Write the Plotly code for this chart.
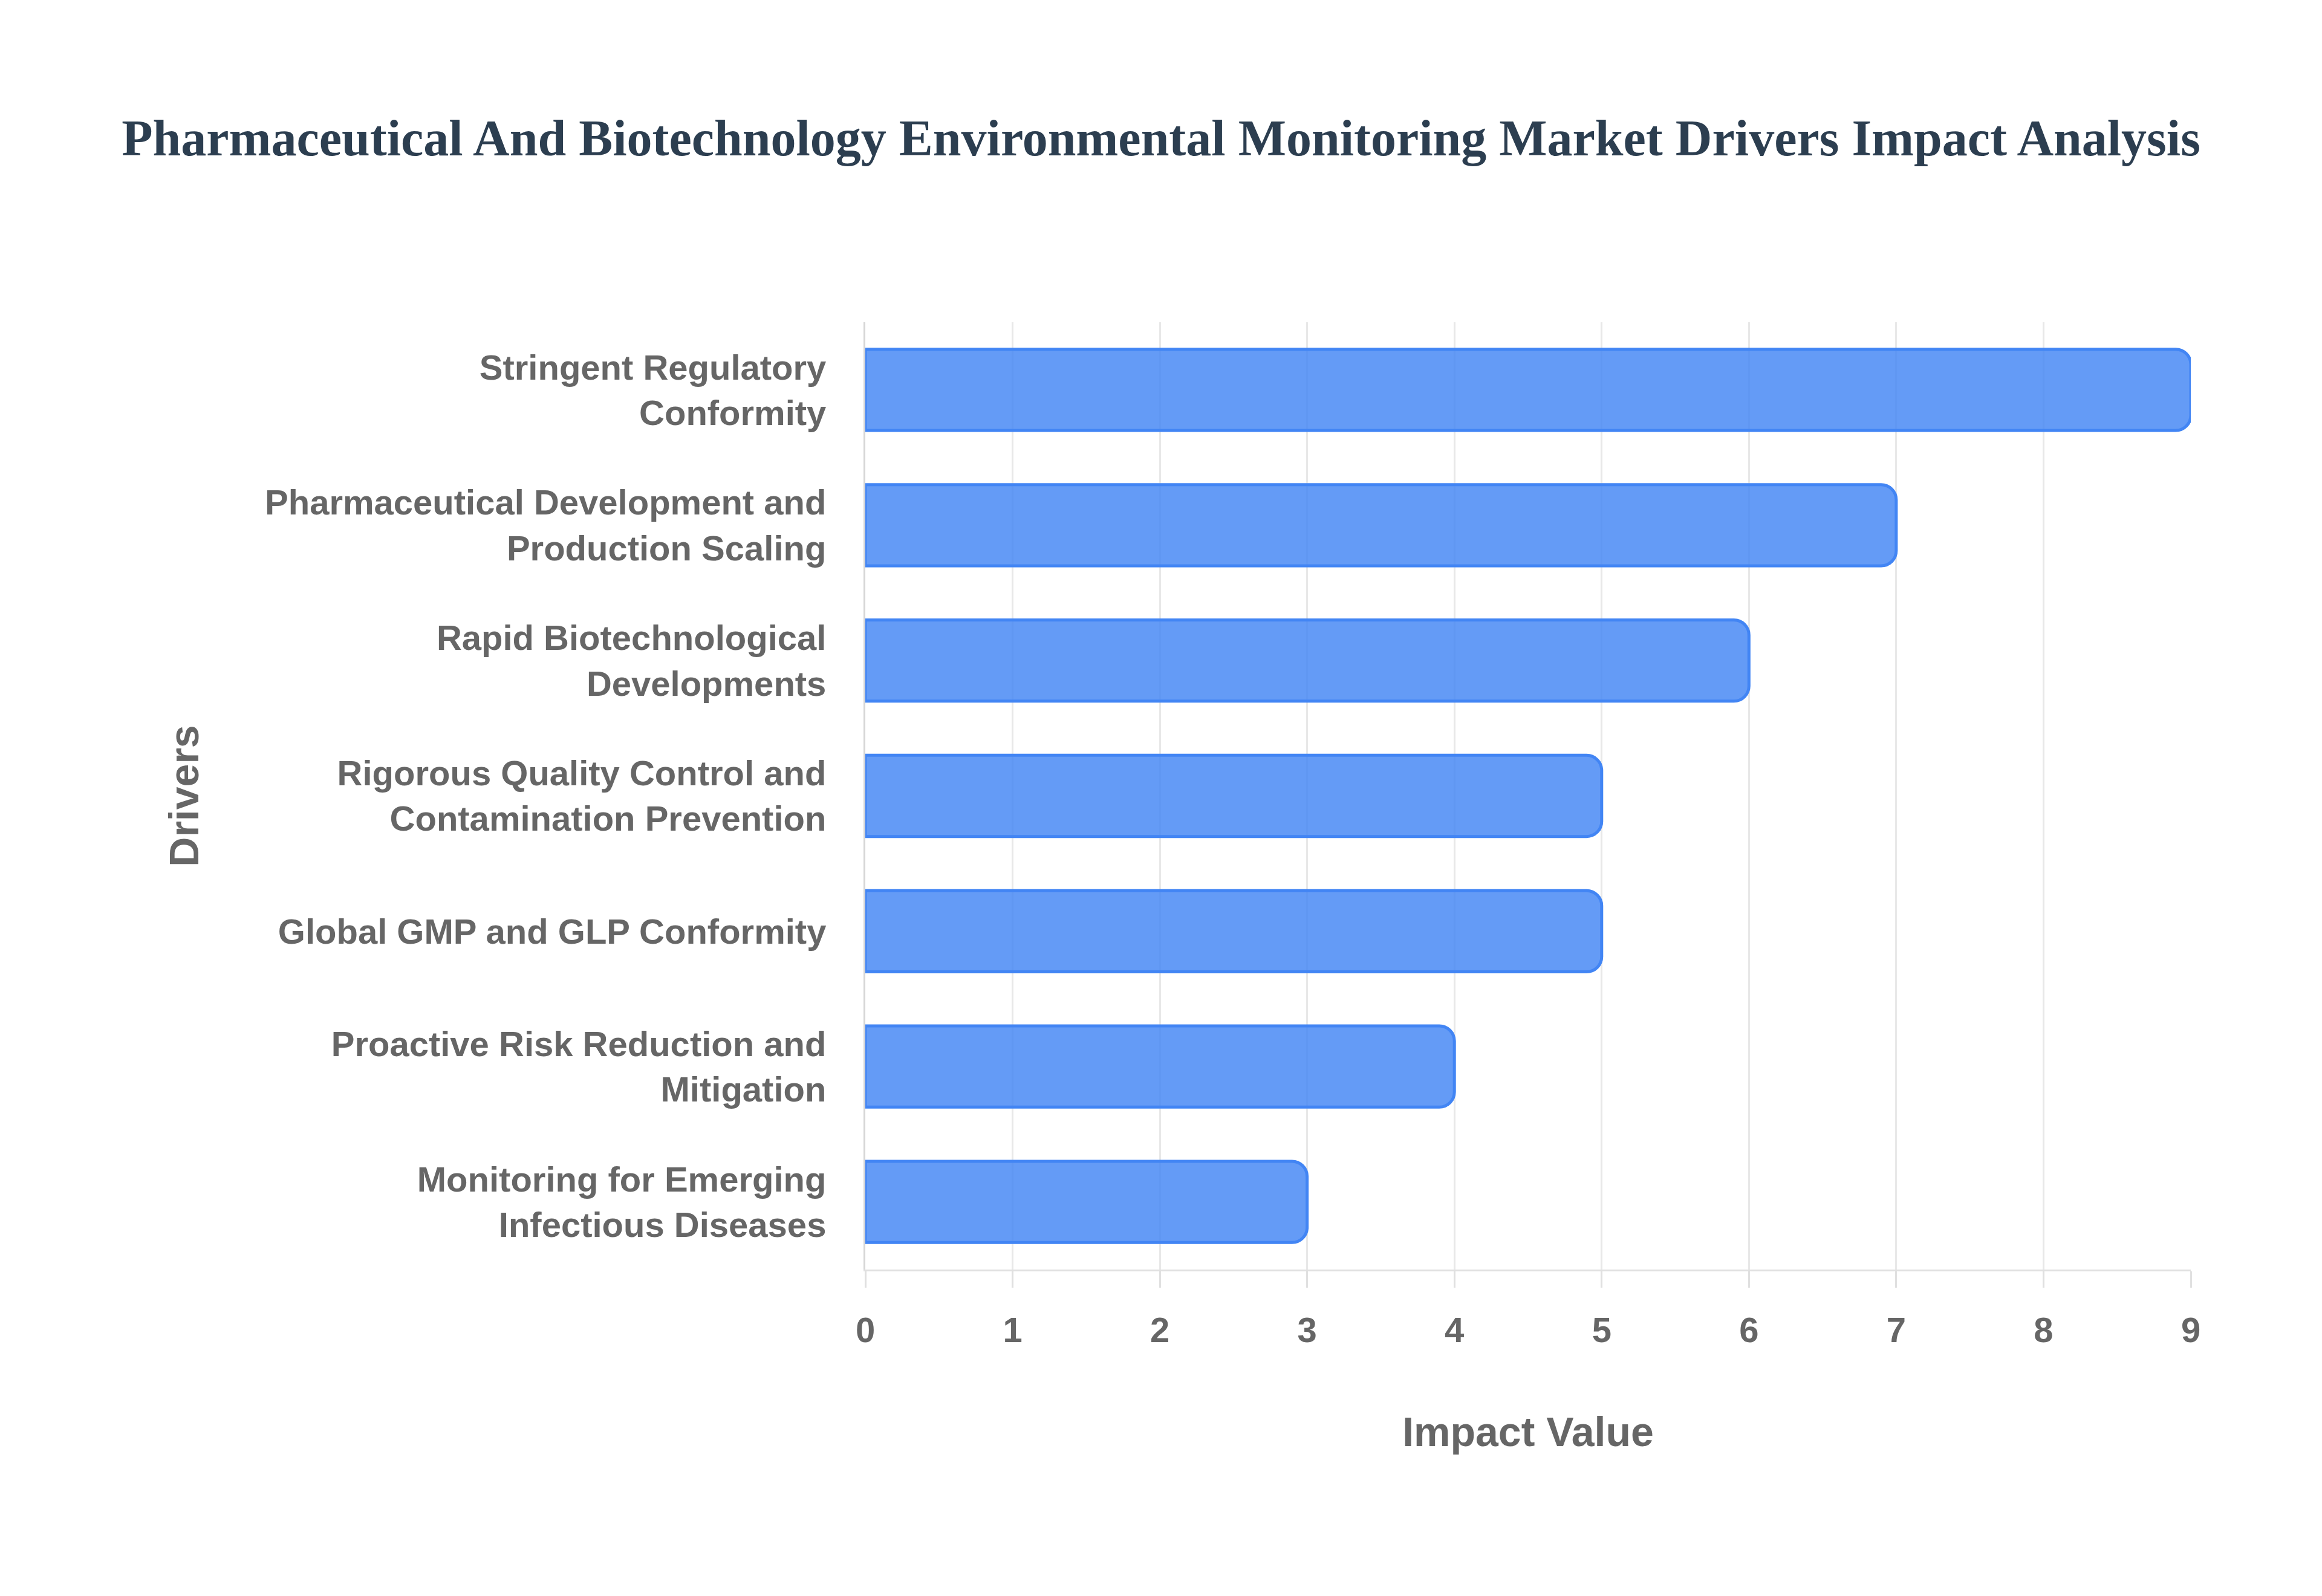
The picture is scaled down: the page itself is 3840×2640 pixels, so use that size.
import plotly.graph_objects as go

# data (top to bottom)
drivers = [
    "Stringent Regulatory<br>Conformity",
    "Pharmaceutical Development and<br>Production Scaling",
    "Rapid Biotechnological<br>Developments",
    "Rigorous Quality Control and<br>Contamination Prevention",
    "Global GMP and GLP Conformity",
    "Proactive Risk Reduction and<br>Mitigation",
    "Monitoring for Emerging<br>Infectious Diseases",
]
impact_values = [9, 7, 6, 5, 5, 4, 3]
x_ticks = [0, 1, 2, 3, 4, 5, 6, 7, 8, 9]

title_text = "Pharmaceutical And Biotechnology Environmental Monitoring Market Drivers Impact Analysis"

fig = go.Figure()

fig.add_trace(go.Bar(
    x=impact_values,
    y=drivers,
    orientation="h",
    marker=dict(color="rgba(66,133,244,0.82)", line=dict(color="#4285F4", width=5)),
    hoverinfo="x+y",
))

# the page body adds an 8px offset, margins are corrected for it
fig.update_layout(
    width=3840,
    height=2640,
    paper_bgcolor="white",
    plot_bgcolor="white",
    margin=dict(l=1423, r=225, t=525, b=548, autoexpand=False),
    bargap=0.4,
    barcornerradius=25,
    showlegend=False,
    title=dict(
        text="<b>" + title_text + "</b>",
        x=1912 / 3840, xanchor="center",
        y=1 - 220 / 2640, yanchor="middle",
        font=dict(family="Liberation Serif, Times New Roman, serif", size=84, color="#2c3e50"),
    ),
    font=dict(family="Liberation Sans, Arial, sans-serif", color="#666666"),
)

fig.update_xaxes(
    range=[0, 9],
    tickvals=x_ticks,
    showgrid=True,
    gridcolor="#e8e8e8",
    gridwidth=3,
    zeroline=False,
    showline=True,
    linecolor="#e0e0e0",
    linewidth=3,
    ticks="outside",
    ticklen=27,
    tickwidth=3,
    tickcolor="#e0e0e0",
    ticklabelstandoff=20,
    tickfont=dict(size=58, color="#666666", family="Liberation Sans, Arial, sans-serif", weight="bold"),
    title=dict(text="<b>Impact Value</b>", font=dict(size=68, color="#666666"), standoff=114),
    automargin=False,
)

fig.update_yaxes(
    autorange="reversed",
    showgrid=False,
    zeroline=False,
    showline=True,
    linecolor="#d6d6d6",
    linewidth=3,
    ticks="",
    ticklabelstandoff=50,
    tickfont=dict(size=58, color="#666666", family="Liberation Sans, Arial, sans-serif", weight="bold"),
    title=dict(text="<b>Drivers</b>", font=dict(size=68, color="#666666"), standoff=88),
    automargin=False,
)

fig.write_html("out.html")
